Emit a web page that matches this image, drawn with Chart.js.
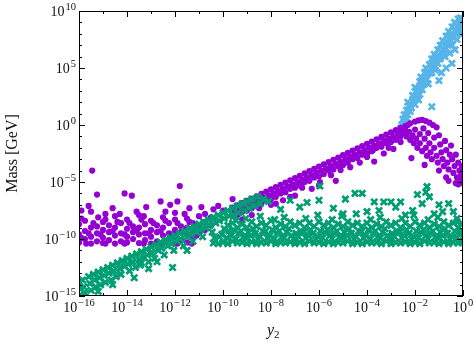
<!DOCTYPE html>
<html>
<head>
<meta charset="utf-8">
<script src="https://cdn.jsdelivr.net/npm/chart.js@4.4.0/dist/chart.umd.min.js"></script>
<style>
  html, body { margin: 0; padding: 0; background: #fff; }
  #wrap { width: 474px; height: 345px; }
</style>
</head>
<body>
<div id="wrap"><canvas id="chart"></canvas></div>
<script>
// tick exponents (labels are 10^e)
const xTickExps = [-16, -14, -12, -10, -8, -6, -4, -2, 0];
const yTickExps = [-15, -10, -5, 0, 5, 10];

// points as [log10(y2), log10(Mass)]
const blueLog = [
    [-2.55,0.0],[-2.6,-0.3],[-2.45,0.3],[-2.4,0.6],[-2.5,0.5],[-2.3,0.9],[-2.35,1.3],[-2.2,1.2],[-2.25,1.7],
    [-2.15,1.5],[-2.1,2.1],[-2.0,1.8],[-2.05,2.5],[-1.95,2.3],[-1.9,2.8],[-1.85,3.2],[-1.8,2.7],[-1.75,3.5],
    [-1.7,3.1],[-1.67,3.95],[-1.6,3.6],[-1.55,4.3],[-1.5,4.0],[-1.45,4.6],[-1.38,4.55],[-1.35,5.0],[-1.3,4.6],
    [-1.25,5.3],[-1.2,5.0],[-1.15,5.6],[-1.1,5.7],[-1.05,5.4],[-1.0,6.1],[-0.95,5.8],[-0.9,6.4],[-0.83,6.6],
    [-0.8,6.2],[-0.75,7.0],[-0.7,6.7],[-0.65,7.3],[-0.6,7.0],[-0.54,7.7],[-0.5,7.4],[-0.45,8.0],[-0.4,7.7],
    [-0.35,8.3],[-0.3,8.0],[-0.25,8.6],[-0.2,8.3],[-0.15,8.9],[-0.1,8.6],[-0.06,9.2],[-0.04,9.0],[-0.03,8.7],
    [-0.33,6.6],[-0.46,5.4],[-1.3,1.6],[-0.04,8.1],[-0.7,5.0],[-1.0,3.9],[-0.9,4.6],[-0.55,6.3],
    [-2.45,0.9],[-2.35,0.6],[-2.2,1.6],[-2.3,2.0],[-2.1,2.6],[-1.95,3.0],[-2.0,3.3],[-1.8,3.8],[-1.75,4.2],
    [-1.6,4.6],[-1.55,5.0],[-1.4,5.3],[-1.3,5.8],[-1.2,6.2],[-1.05,6.6],[-0.95,7.0],[-0.85,7.4],[-0.7,7.8],
    [-0.6,8.2],[-0.45,8.6],[-0.35,9.0],[-0.2,9.3],[-0.1,9.4],[-1.85,2.2],[-1.45,3.6],[-1.15,4.8],[-0.75,6.0],
    [-0.45,7.0],[-0.25,7.5],[-0.12,8.0]
];

const purpleLog = [
    // low y2 region
    [-16.0,-10.3],[-16.0,-9.6],[-16.0,-8.7],[-15.75,-10.0],[-15.75,-9.3],[-15.75,-8.4],
    [-15.5,-10.4],[-15.5,-9.8],[-15.5,-9.0],[-15.5,-7.6],[-15.25,-10.2],[-15.25,-9.5],[-15.25,-8.9],
    [-15.0,-10.35],[-15.0,-9.9],[-15.0,-9.2],[-15.0,-8.5],[-14.75,-10.1],[-14.75,-9.4],[-14.75,-8.8],
    [-14.5,-10.4],[-14.5,-9.7],[-14.5,-9.0],[-14.5,-8.0],[-14.25,-10.2],[-14.25,-9.5],[-14.25,-8.6],
    [-14.0,-10.3],[-14.0,-9.8],[-14.0,-9.1],[-14.0,-8.3],[-13.75,-10.0],[-13.75,-9.4],[-13.75,-8.9],
    [-13.5,-10.35],[-13.5,-9.6],[-13.5,-9.0],[-13.5,-7.9],[-13.25,-10.1],[-13.25,-9.5],[-13.25,-8.7],
    [-13.0,-10.4],[-13.0,-9.8],[-13.0,-9.2],[-13.0,-8.4],[-12.75,-10.2],[-12.75,-9.4],[-12.75,-8.8],
    [-12.5,-10.3],[-12.5,-9.7],[-12.5,-9.0],[-12.5,-8.1],[-12.25,-10.0],[-12.25,-9.5],[-12.25,-8.6],
    [-12.0,-10.4],[-12.0,-9.8],[-12.0,-9.2],[-12.0,-8.3],[-12.0,-7.7],[-11.75,-10.1],[-11.75,-9.4],[-11.75,-8.9],
    [-11.5,-10.3],[-11.5,-9.6],[-11.5,-9.0],[-11.5,-8.2],[-11.25,-9.9],[-11.25,-9.3],[-11.25,-8.6],
    [-11.0,-9.5],[-11.0,-8.9],[-11.0,-8.0],[-10.75,-9.2],[-10.75,-8.5],[-10.75,-7.8],[-10.5,-8.8],[-10.5,-8.1],
    [-15.9,-9.9],[-15.6,-9.5],[-15.4,-8.6],[-15.1,-9.6],[-14.9,-8.3],[-14.6,-9.3],[-14.4,-8.5],[-14.1,-9.6],
    [-13.9,-8.6],[-13.6,-9.2],[-13.4,-8.3],[-13.1,-9.5],[-12.9,-8.6],[-12.6,-9.3],[-12.4,-8.4],[-12.1,-9.6],
    [-11.9,-8.6],[-11.6,-9.3],[-11.4,-8.5],[-11.1,-9.7],[-15.9,-8.2],[-15.2,-8.1],[-14.3,-7.8],[-13.3,-8.0],
    [-12.4,-7.6],[-11.6,-7.8],[-15.7,-10.4],[-14.9,-10.4],[-14.1,-10.4],[-13.3,-10.4],[-12.6,-10.4],
    [-11.9,-10.4],[-11.3,-10.4],
    [-15.45,-4.0],[-15.25,-6.1],[-14.1,-6.0],[-13.8,-6.2],[-11.8,-5.35],[-12.6,-6.7],[-11.9,-6.7],[-9.6,-6.5],
    [-15.9,-7.5],[-15.6,-7.1],[-14.6,-7.3],[-13.2,-7.2],[-12.2,-7.0],[-11.4,-7.3],[-10.9,-7.2],[-13.6,-7.6],
    [-14.9,-7.8],[-10.4,-7.4],[-10.0,-7.5],[-10.2,-7.1],
    // along the diagonal
    [-9.6,-7.25],[-9.5,-7.6],[-9.6,-8.0],[-9.4,-7.05],[-9.3,-7.4],[-9.4,-7.9],[-9.2,-6.85],[-9.1,-7.2],[-9.2,-7.6],
    [-9.0,-6.65],[-8.9,-7.0],[-9.0,-7.5],[-8.8,-6.45],[-8.7,-6.8],[-8.8,-7.3],[-8.6,-6.25],[-8.5,-6.6],[-8.6,-7.0],
    [-8.4,-6.05],[-8.3,-6.4],[-8.4,-6.9],[-8.2,-5.85],[-8.1,-6.2],[-8.2,-6.6],[-8.0,-5.65],[-7.9,-6.0],[-8.0,-6.5],
    [-7.8,-5.45],[-7.7,-5.8],[-7.8,-6.3],[-7.6,-5.25],[-7.5,-5.6],[-7.6,-6.0],[-7.4,-5.05],[-7.3,-5.4],[-7.4,-5.9],
    [-7.2,-4.85],[-7.1,-5.2],[-7.2,-5.6],[-7.0,-4.65],[-6.9,-5.0],[-7.0,-5.5],[-6.8,-4.45],[-6.7,-4.8],[-6.8,-5.3],
    [-6.6,-4.25],[-6.5,-4.6],[-6.6,-5.0],[-6.4,-4.05],[-6.3,-4.4],[-6.4,-4.9],[-6.2,-3.85],[-6.1,-4.2],[-6.2,-4.6],
    [-6.0,-3.65],[-5.9,-4.0],[-6.0,-4.5],[-5.8,-3.45],[-5.7,-3.8],[-5.8,-4.3],[-5.6,-3.25],[-5.5,-3.6],[-5.6,-4.0],
    [-5.4,-3.05],[-5.3,-3.4],[-5.4,-3.9],[-5.2,-2.85],[-5.1,-3.2],[-5.2,-3.6],[-5.0,-2.65],[-4.9,-3.0],[-5.0,-3.5],
    [-4.8,-2.45],[-4.7,-2.8],[-4.8,-3.3],[-4.6,-2.25],[-4.5,-2.6],[-4.6,-3.0],[-4.4,-2.05],[-4.3,-2.4],[-4.4,-2.9],
    [-4.2,-1.85],[-4.1,-2.2],[-4.2,-2.6],[-4.0,-1.65],[-3.9,-2.0],[-4.0,-2.5],[-3.8,-1.45],[-3.7,-1.8],[-3.8,-2.3],
    [-3.6,-1.25],[-3.5,-1.6],[-3.6,-2.0],[-3.4,-1.05],[-3.3,-1.4],[-3.4,-1.9],[-3.2,-0.85],[-3.1,-1.2],[-3.2,-1.6],
    [-3.0,-0.65],[-2.9,-1.0],[-3.0,-1.5],[-2.8,-0.45],[-2.7,-0.8],[-2.8,-1.3],[-2.6,-0.25],[-2.6,-0.6],[-2.6,-1.0],
    [-8.5,-7.3],[-8.0,-7.0],[-7.5,-6.6],[-7.2,-6.3],[-6.7,-5.5],[-6.7,-5.0],[-5.96,-5.0],[-5.5,-4.4],[-5.1,-3.95],
    [-4.7,-3.7],[-3.7,-3.2],[-3.75,-2.2],[-2.6,-1.5],[-6.3,-5.6],[-7.8,-6.9],[-5.3,-4.9],[-4.3,-3.3],[-3.3,-2.5],
    [-2.9,-2.1],[-6.0,-5.3],[-4.0,-2.8],[-3.1,-2.0],[-8.8,-7.9],[-9.2,-8.3],[-7.0,-6.2],
    // beyond the kink
    [-2.5,-0.3],[-2.4,-0.1],[-2.3,0.0],[-2.2,0.15],[-2.0,0.3],[-1.85,0.4],[-1.7,0.45],[-1.55,0.35],[-1.4,0.2],
    [-1.25,0.0],[-1.1,-0.2],[-2.5,-0.7],[-2.4,-0.5],[-2.35,-1.0],[-2.25,-0.6],[-2.2,-1.3],[-2.1,-0.9],[-2.05,-1.6],
    [-2.0,-0.4],[-1.95,-1.2],[-1.9,-2.0],[-1.8,-0.8],[-1.8,-1.6],[-1.7,-2.3],[-1.65,-0.3],[-1.6,-1.2],[-1.55,-2.0],
    [-1.5,-2.7],[-1.45,-0.7],[-1.4,-1.6],[-1.35,-2.4],[-1.3,-3.0],[-1.2,-1.1],[-1.2,-2.0],[-1.1,-2.7],[-1.05,-3.3],
    [-1.0,-0.9],[-0.95,-1.7],[-0.9,-2.4],[-0.85,-3.0],[-0.8,-3.6],[-0.75,-1.4],[-0.7,-2.2],[-0.65,-3.3],[-0.6,-3.9],
    [-0.55,-2.6],[-0.5,-1.8],[-0.45,-3.0],[-0.4,-4.2],[-0.35,-3.6],[-0.3,-2.6],[-0.25,-4.6],[-0.2,-3.3],[-0.15,-4.0],
    [-0.12,-5.0],[-0.08,-4.4],[-0.05,-3.6],[-0.03,-4.8],[-0.02,-5.1],[-2.15,-2.9],[-1.6,-3.5],[-1.0,-4.0],
    [-0.7,-4.6],[-0.3,-5.1],[-0.2,-5.2],[-0.6,-4.9]
];

const greenLog = [
    // diagonal band
    [-16.0,-13.7],[-16.0,-14.3],[-15.95,-14.9],[-15.9,-15.0],[-15.85,-13.6],[-15.8,-14.2],[-15.75,-14.7],
    [-15.6,-13.3],[-15.55,-13.9],[-15.5,-14.5],[-15.4,-13.1],[-15.35,-13.6],[-15.3,-14.2],
    [-15.2,-12.9],[-15.15,-13.4],[-15.1,-14.0],[-15.0,-12.7],[-14.95,-13.2],[-14.9,-13.8],
    [-14.8,-12.5],[-14.75,-13.0],[-14.65,-13.6],[-14.6,-12.3],[-14.55,-12.8],[-14.45,-13.3],
    [-14.4,-12.1],[-14.3,-12.6],[-14.25,-13.1],[-14.2,-11.9],[-14.1,-12.4],[-14.0,-11.7],[-13.95,-12.2],[-13.9,-12.8],
    [-13.8,-11.5],[-13.75,-12.0],[-13.65,-12.5],[-13.6,-11.3],[-13.5,-11.8],[-13.45,-12.3],
    [-13.4,-11.1],[-13.3,-11.6],[-13.2,-10.9],[-13.15,-11.4],[-13.1,-12.0],[-13.0,-10.7],[-12.95,-11.2],[-12.85,-11.7],
    [-12.8,-10.5],[-12.7,-11.0],[-12.6,-10.3],[-12.55,-10.8],[-12.45,-11.4],[-12.4,-10.1],[-12.3,-10.6],[-12.2,-9.9],
    [-12.15,-10.4],[-12.05,-11.0],[-12.0,-9.7],[-11.9,-10.2],[-11.8,-9.5],[-11.75,-10.0],[-11.65,-10.6],[-11.6,-9.3],
    [-11.5,-9.8],[-11.4,-9.1],[-11.35,-9.6],[-11.25,-10.2],[-11.2,-8.9],[-11.1,-9.4],[-11.0,-8.7],[-10.95,-9.2],
    [-10.85,-9.8],[-10.8,-8.5],[-10.7,-9.0],[-10.6,-8.3],[-10.55,-8.8],[-10.45,-9.4],[-10.4,-8.1],[-10.3,-8.6],
    [-10.2,-7.9],[-10.15,-8.4],[-10.0,-7.7],[-9.95,-8.2],[-9.8,-7.5],[-9.75,-8.0],[-9.6,-7.3],[-9.55,-7.9],
    [-9.4,-7.1],[-9.35,-7.7],[-9.2,-6.9],[-9.1,-7.5],[-9.0,-6.7],[-8.9,-7.3],[-8.8,-6.5],[-8.7,-7.1],
    [-8.55,-6.3],[-8.45,-6.9],[-8.3,-6.5],[-8.1,-6.7],
    [-13.7,-13.4],[-13.4,-12.1],[-13.1,-12.6],[-12.75,-12.0],[-12.1,-12.5],[-14.6,-14.0],[-15.2,-14.6],[-11.5,-11.0],
    // floor band
    [-10.4,-10.35],[-10.35,-9.9],[-10.2,-10.4],[-10.15,-9.8],[-10.0,-10.3],[-10.05,-9.6],[-9.95,-9.1],
    [-9.8,-10.4],[-9.85,-9.9],[-9.75,-9.3],[-9.8,-8.8],[-9.6,-10.2],[-9.65,-9.7],[-9.55,-9.2],[-9.6,-8.6],
    [-9.4,-10.35],[-9.45,-10.0],[-9.35,-9.5],[-9.4,-9.0],[-9.45,-8.4],[-9.2,-10.3],[-9.15,-9.8],[-9.25,-9.3],[-9.2,-8.7],
    [-9.0,-10.4],[-9.05,-9.9],[-8.95,-9.4],[-9.0,-9.0],[-9.05,-8.2],[-8.8,-10.25],[-8.85,-9.7],[-8.75,-9.1],[-8.8,-8.5],
    [-8.6,-10.4],[-8.55,-10.0],[-8.65,-9.5],[-8.6,-8.9],[-8.4,-10.3],[-8.45,-9.8],[-8.35,-9.3],[-8.4,-8.6],[-8.45,-8.0],
    [-8.2,-10.35],[-8.15,-9.9],[-8.25,-9.4],[-8.2,-8.8],[-8.0,-10.2],[-8.05,-9.7],[-7.95,-9.2],[-8.0,-8.4],
    [-7.8,-10.4],[-7.85,-10.0],[-7.75,-9.5],[-7.8,-9.0],[-7.85,-8.3],[-7.6,-10.3],[-7.55,-9.8],[-7.65,-9.3],[-7.6,-8.7],
    [-7.4,-10.35],[-7.45,-9.9],[-7.35,-9.4],[-7.4,-8.9],[-7.45,-8.1],[-7.2,-10.25],[-7.15,-9.7],[-7.25,-9.1],[-7.2,-8.5],
    [-7.0,-10.4],[-7.05,-10.0],[-6.95,-9.5],[-7.0,-8.8],[-6.8,-10.3],[-6.85,-9.8],[-6.75,-9.3],[-6.8,-8.6],
    [-6.6,-10.4],[-6.55,-9.9],[-6.65,-9.4],[-6.6,-9.0],[-6.55,-8.2],[-6.4,-10.2],[-6.45,-9.7],[-6.35,-9.2],[-6.4,-8.6],
    [-6.2,-10.35],[-6.15,-10.0],[-6.25,-9.5],[-6.2,-8.9],[-6.0,-10.3],[-6.05,-9.8],[-5.95,-9.3],[-6.0,-8.5],[-6.05,-7.9],
    [-5.8,-10.4],[-5.85,-9.9],[-5.75,-9.4],[-5.8,-8.8],[-5.6,-10.25],[-5.55,-9.7],[-5.65,-9.2],[-5.6,-8.6],
    [-5.4,-10.4],[-5.45,-10.0],[-5.35,-9.5],[-5.4,-9.0],[-5.45,-8.3],[-5.2,-10.3],[-5.15,-9.8],[-5.25,-9.3],[-5.2,-8.7],
    [-5.0,-10.35],[-5.05,-9.9],[-4.95,-9.4],[-5.0,-8.9],[-5.05,-8.0],[-4.8,-10.2],[-4.85,-9.7],[-4.75,-9.1],[-4.8,-8.5],
    [-4.6,-10.4],[-4.55,-10.0],[-4.65,-9.5],[-4.6,-8.8],[-4.4,-10.3],[-4.45,-9.8],[-4.35,-9.3],[-4.4,-8.6],[-4.45,-7.8],
    [-4.2,-10.4],[-4.15,-9.9],[-4.25,-9.4],[-4.2,-8.9],[-4.0,-10.25],[-4.05,-9.7],[-3.95,-9.2],[-4.0,-8.6],
    [-3.8,-10.35],[-3.85,-10.0],[-3.75,-9.5],[-3.8,-9.0],[-3.85,-8.3],[-3.6,-10.3],[-3.55,-9.8],[-3.65,-9.3],[-3.6,-8.7],
    [-3.4,-10.4],[-3.45,-9.9],[-3.35,-9.4],[-3.4,-8.9],[-3.45,-8.1],[-3.2,-10.2],[-3.15,-9.7],[-3.25,-9.1],[-3.2,-8.5],
    [-3.0,-10.4],[-3.05,-10.0],[-2.95,-9.5],[-3.0,-8.8],[-2.8,-10.3],[-2.85,-9.8],[-2.75,-9.3],[-2.8,-8.6],
    [-2.6,-10.35],[-2.55,-9.9],[-2.65,-9.4],[-2.6,-9.0],[-2.55,-8.2],[-2.4,-10.25],[-2.45,-9.7],[-2.35,-9.2],[-2.4,-8.6],
    [-2.2,-10.4],[-2.15,-10.0],[-2.25,-9.5],[-2.2,-8.9],[-2.0,-10.3],[-2.05,-9.8],[-1.95,-9.3],[-2.0,-8.5],[-2.05,-7.9],
    [-1.8,-10.4],[-1.85,-9.9],[-1.75,-9.4],[-1.8,-8.8],[-1.6,-10.2],[-1.55,-9.7],[-1.65,-9.2],[-1.6,-8.6],
    [-1.4,-10.35],[-1.45,-10.0],[-1.35,-9.5],[-1.4,-9.0],[-1.45,-8.3],[-1.2,-10.3],[-1.15,-9.8],[-1.25,-9.3],[-1.2,-8.7],
    [-1.0,-10.4],[-1.05,-9.9],[-0.95,-9.4],[-1.0,-8.9],[-1.05,-8.1],[-0.8,-10.25],[-0.85,-9.7],[-0.75,-9.1],[-0.8,-8.5],
    [-0.6,-10.4],[-0.55,-10.0],[-0.65,-9.5],[-0.6,-8.8],[-0.4,-10.3],[-0.45,-9.8],[-0.35,-9.3],[-0.4,-8.6],
    [-0.2,-10.35],[-0.25,-9.9],[-0.15,-9.4],[-0.2,-9.0],[-0.25,-8.2],[-0.05,-10.3],[-0.02,-9.8],[-0.05,-9.3],[-0.02,-8.7],
    // scattered above the floor
    [-5.96,-5.35],[-4.5,-6.0],[-4.2,-6.0],[-1.5,-5.4],[-1.55,-5.9],[-6.0,-6.6],[-4.9,-6.5],[-3.7,-6.75],[-3.3,-6.75],
    [-3.0,-6.75],[-2.6,-6.75],[-2.1,-7.5],[-1.9,-6.1],[-1.4,-6.3],[-0.85,-7.6],[-0.4,-7.6],[-0.25,-8.5],[-7.2,-6.6],
    [-6.5,-6.8],[-6.8,-7.2],[-7.6,-7.4],[-5.4,-7.3],[-4.0,-7.6],[-2.8,-7.2],[-1.7,-6.9],[-1.0,-7.0],[-0.6,-6.9],
    [-5.0,-7.8],[-3.5,-7.5],[-2.4,-7.9],[-1.2,-7.8]
];

const toPoints = arr => arr.map(p => ({ x: Math.pow(10, p[0]), y: Math.pow(10, p[1]) }));

const serif = '"Liberation Serif", "Times New Roman", serif';

function drawPow(ctx, exp, px, py, align) {
    const sup = exp < 0 ? '\u2212' + (-exp) : String(exp);
    ctx.font = '14px ' + serif;
    const wb = ctx.measureText('10').width;
    ctx.font = '10.5px ' + serif;
    const ws = ctx.measureText(sup).width;
    const total = wb + 1 + ws;
    const left = align === 'right' ? px - total : px - total / 2;
    ctx.textAlign = 'left';
    ctx.textBaseline = 'alphabetic';
    ctx.font = '14px ' + serif;
    ctx.fillText('10', left, py);
    ctx.font = '10.5px ' + serif;
    ctx.fillText(sup, left + wb + 1, py - 6);
}

// frame, inward ticks on all four sides, labels and titles
const axesPlugin = {
    id: 'axesPlugin',
    afterDatasetsDraw(chart) {
        const { ctx, chartArea: a, scales } = chart;
        const xs = scales.x, ys = scales.y;
        ctx.save();
        ctx.strokeStyle = '#000';
        ctx.lineWidth = 1;
        ctx.strokeRect(a.left + 0.5, a.top + 0.5, a.right - a.left - 1, a.bottom - a.top - 1);
        ctx.beginPath();
        for (let e = -16; e <= 0; e++) {
            const px = Math.round(xs.getPixelForValue(Math.pow(10, e))) + 0.5;
            const len = e % 2 === 0 ? 6 : 3;
            ctx.moveTo(px, a.bottom); ctx.lineTo(px, a.bottom - len);
            ctx.moveTo(px, a.top); ctx.lineTo(px, a.top + len);
        }
        for (let e = -15; e <= 10; e++) {
            const py = Math.round(ys.getPixelForValue(Math.pow(10, e))) + 0.5;
            const len = e % 5 === 0 ? 6 : 3;
            ctx.moveTo(a.left, py); ctx.lineTo(a.left + len, py);
            ctx.moveTo(a.right, py); ctx.lineTo(a.right - len, py);
        }
        ctx.stroke();

        ctx.fillStyle = '#111';
        xTickExps.forEach(e => {
            drawPow(ctx, e, xs.getPixelForValue(Math.pow(10, e)), a.bottom + 16, 'center');
        });
        yTickExps.forEach(e => {
            drawPow(ctx, e, a.left - 3, ys.getPixelForValue(Math.pow(10, e)) + 4.5, 'right');
        });

        // axis titles
        ctx.font = '16px ' + serif;
        ctx.textAlign = 'center';
        ctx.save();
        ctx.translate(17, (a.top + a.bottom) / 2);
        ctx.rotate(-Math.PI / 2);
        ctx.fillText('Mass [GeV]', 0, 0);
        ctx.restore();
        const cx = (a.left + a.right) / 2 + 2;
        ctx.font = 'italic 16px ' + serif;
        ctx.textAlign = 'left';
        ctx.fillText('y', cx - 6, 335);
        ctx.font = '11px ' + serif;
        ctx.fillText('2', cx + 1, 338);
        ctx.restore();
    }
};

new Chart(document.getElementById('chart'), {
    type: 'scatter',
    data: {
        datasets: [
            {
                label: 'green',
                data: toPoints(greenLog),
                order: 0,
                pointStyle: 'crossRot',
                pointRadius: 4.4,
                pointBorderWidth: 2.7,
                borderColor: '#009E73',
                backgroundColor: '#009E73',
                clip: 0
            },
            {
                label: 'purple',
                data: toPoints(purpleLog),
                order: 1,
                pointStyle: 'circle',
                pointRadius: 3.1,
                pointBorderWidth: 0,
                borderColor: '#9400D3',
                backgroundColor: '#9400D3',
                clip: 0
            },
            {
                label: 'blue',
                data: toPoints(blueLog),
                order: 2,
                pointStyle: 'crossRot',
                pointRadius: 4.4,
                pointBorderWidth: 2.7,
                borderColor: '#56B4E9',
                backgroundColor: '#56B4E9',
                clip: 0
            }
        ]
    },
    options: {
        responsive: true,
        maintainAspectRatio: false,
        animation: false,
        layout: { padding: { left: 79, right: 11, top: 11, bottom: 49 } },
        plugins: { legend: { display: false }, tooltip: { enabled: false } },
        scales: {
            x: { type: 'logarithmic', min: 1e-16, max: 1, display: false },
            y: { type: 'logarithmic', min: 1e-15, max: 1e10, display: false }
        }
    },
    plugins: [axesPlugin]
});
</script>
</body>
</html>
